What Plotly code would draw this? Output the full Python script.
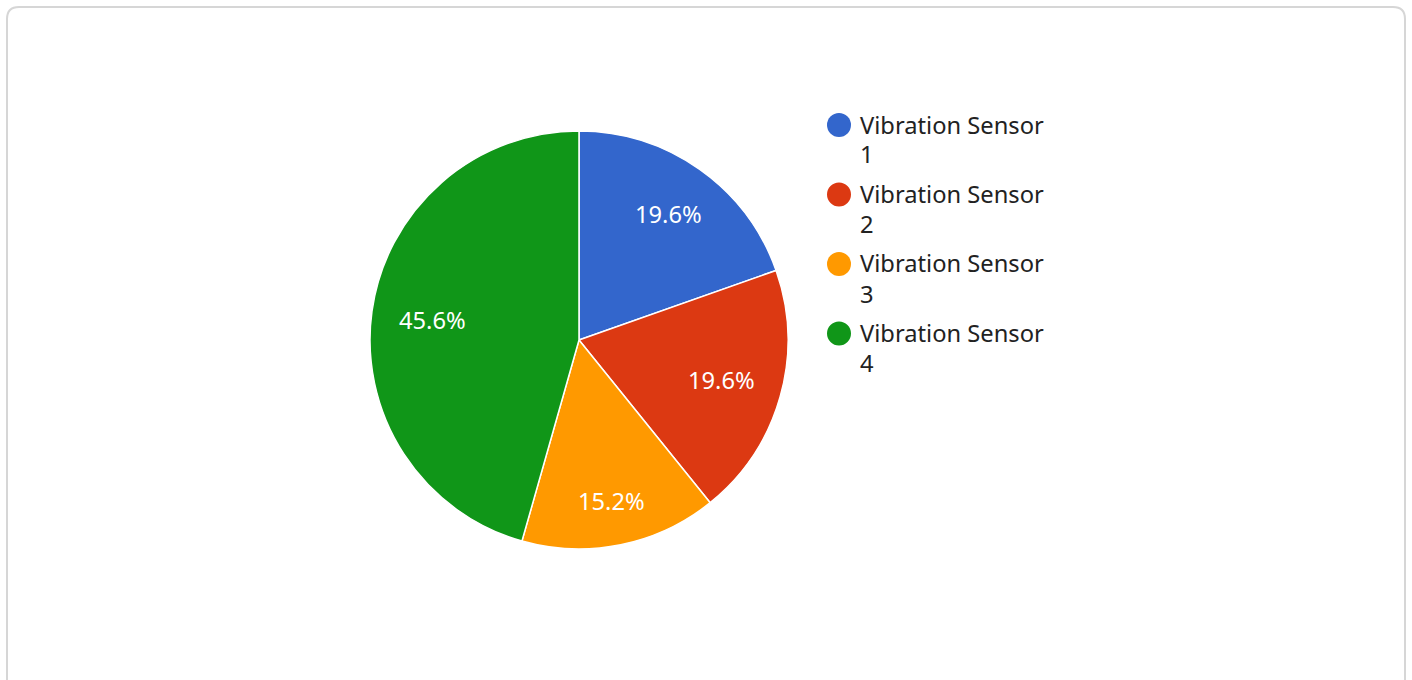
import numpy as np
import plotly.graph_objects as go

labels = ["Vibration Sensor 1", "Vibration Sensor 2", "Vibration Sensor 3", "Vibration Sensor 4"]
legend_lines = [["Vibration Sensor", "1"], ["Vibration Sensor", "2"], ["Vibration Sensor", "3"], ["Vibration Sensor", "4"]]
values = [19.6, 19.6, 15.2, 45.6]
colors = ["#3366cc", "#dc3912", "#ff9900", "#109618"]

W, H = 1412, 680
cx, cy, R = 579, 340, 209
FONT = "Noto Sans"
FS = 23.7

def px(x):
    return x / W

def py(y):
    return 1 - y / H

fig = go.Figure()
fig.add_trace(go.Pie(
    labels=labels, values=values, sort=False, direction="clockwise", rotation=0,
    marker=dict(colors=colors, line=dict(color="white", width=1.5)),
    textinfo="none", hoverinfo="none", showlegend=False,
    domain=dict(x=[px(cx - R), px(cx + R)], y=[py(cy + R), py(cy - R)]),
))

annotations = []
vals = np.array(values, dtype=float)
fr = vals / vals.sum()
start = np.concatenate([[0], np.cumsum(fr)[:-1]])
mid = (start + fr / 2) * 2 * np.pi
# label placed along the slice bisector so that the outer corner of its box sits at Rc
Rc, bw, bh = 0.868 * R, 65.0, 17.0
for f, a in zip(fr, mid):
    ux, uy = np.sin(a), -np.cos(a)
    hx, hy = np.sign(ux) * bw / 2, np.sign(uy) * bh / 2
    # |r*u + h| = Rc  -> r^2 + 2 r (u.h) + |h|^2 - Rc^2 = 0
    b = ux * hx + uy * hy
    c = hx * hx + hy * hy - Rc * Rc
    r = -b + np.sqrt(b * b - c)
    x = cx + r * ux
    y = cy + r * uy
    annotations.append(dict(x=px(x), y=py(y), xref="paper", yref="paper",
                            text=f"{f*100:.1f}%", showarrow=False,
                            font=dict(family=FONT, size=FS, color="white"),
                            xanchor="center", yanchor="middle"))

shapes = []
lx, ly0, step = 839, 125, 69.5
for i, (lines, c) in enumerate(zip(legend_lines, colors)):
    y = ly0 + i * step
    shapes.append(dict(type="circle", xref="paper", yref="paper",
                       x0=px(lx - 12), x1=px(lx + 12), y0=py(y + 12), y1=py(y - 12),
                       fillcolor=c, line=dict(width=0)))
    for j, t in enumerate(lines):
        annotations.append(dict(x=px(858), y=py(y - 0.5 + j * 30), xref="paper", yref="paper",
                                text=t, showarrow=False, xanchor="left", yanchor="middle",
                                font=dict(family=FONT, size=FS, color="#222222")))

# card border with rounded corners
l, r, t, b, rad = 7, 1405, 7, 700, 12
path = (f"M {px(l)},{py(b)} L {px(l)},{py(t+rad)} Q {px(l)},{py(t)} {px(l+rad)},{py(t)} "
        f"L {px(r-rad)},{py(t)} Q {px(r)},{py(t)} {px(r)},{py(t+rad)} L {px(r)},{py(b)}")
shapes.append(dict(type="path", xref="paper", yref="paper", path=path,
                   line=dict(color="#d6d6d6", width=2)))

fig.update_layout(
    width=W, height=H, margin=dict(l=0, r=0, t=0, b=0),
    paper_bgcolor="white", plot_bgcolor="white",
    annotations=annotations, shapes=shapes, showlegend=False,
    font=dict(family=FONT),
)
fig.write_html("out.html", config={"displayModeBar": False},
               post_script="document.body.style.margin='0';document.body.style.overflow='hidden';")
